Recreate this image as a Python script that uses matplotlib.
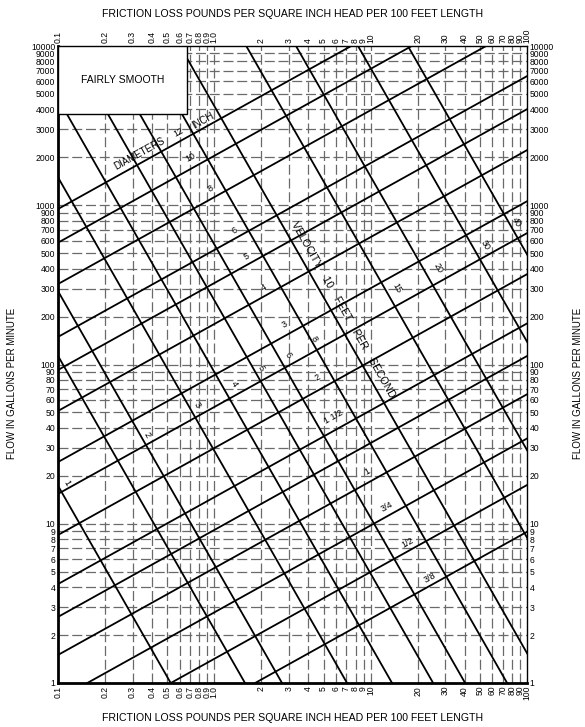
import numpy as np
import matplotlib.pyplot as plt
from matplotlib.patches import Rectangle

plt.rcParams['font.family'] = ['Liberation Sans', 'DejaVu Sans']

# pipe diameter lines: flow (gpm) read where each line meets 0.1 and 100 psi / 100 ft
diameters = ['12', '10', '8', '6', '5', '4', '3', '2 1/2', '2', '1 1/2', '1 1/4', '1', '3/4', '1/2', '3/8']
diam_flow_at_01 = [947, 582, 320, 149, 92.4, 51.1, 24.4, 15.4, 8.5, 4.18, 2.6, 1.5, 0.79, 0.404, 0.205]
diam_flow_at_100 = [41100, 25260, 13890, 6467, 4010, 2218, 1059, 668, 369, 181, 113, 65, 34.3, 17.5, 8.9]

# velocity lines (ft/s): friction loss read where each line meets 10000 gpm and 1 gpm
velocities = ['1', '1 1/2', '2', '3', '4', '5', '6', '8', '10', '15', '20', '30', '40']
vel_loss_at_10000 = [0.00247, 0.00736, 0.0127, 0.0331, 0.0643, 0.1175, 0.188, 0.350, 0.603, 1.60, 3.33, 8.30, 17.3]
vel_loss_at_1 = [0.526, 1.571, 2.71, 7.06, 13.7, 25.1, 40.2, 74.6, 128.6, 340, 711, 1771, 3700]

x_ticks = [0.1, 0.2, 0.3, 0.4, 0.5, 0.6, 0.7, 0.8, 0.9, 1, 2, 3, 4, 5, 6, 7, 8, 9,
           10, 20, 30, 40, 50, 60, 70, 80, 90, 100]
x_ticklabels = ['0.1', '0.2', '0.3', '0.4', '0.5', '0.6', '0.7', '0.8', '0.9', '1.0',
                '2', '3', '4', '5', '6', '7', '8', '9', '10', '20', '30', '40', '50',
                '60', '70', '80', '90', '100']
y_ticks = [1, 2, 3, 4, 5, 6, 7, 8, 9, 10, 20, 30, 40, 50, 60, 70, 80, 90, 100, 200, 300,
           400, 500, 600, 700, 800, 900, 1000, 2000, 3000, 4000, 5000, 6000, 7000, 8000,
           9000, 10000]

# label spots (friction loss, flow)
diam_label_pos = [(0.586, 2884), (0.699, 2010), (0.953, 1265), (1.337, 689), (1.62, 473),
                  (2.08, 302), (2.83, 179), None, (4.60, 82.2), (5.75, 46.8), None,
                  (9.48, 21.4), (12.7, 12.7), (17.3, 7.57), (24.0, 4.56)]
vel_label_pos = [(0.1137, 18.1), None, (0.369, 36.1), (0.771, 55.7), (1.343, 75.2),
                 (1.99, 94.6), (2.95, 115), (4.36, 144), None, (14.7, 301), (26.9, 402),
                 (54.0, 563), (86.1, 788)]

fig = plt.figure(figsize=(5.85, 7.27), dpi=100)
ax = fig.add_axes([58 / 585, 44 / 727, 469 / 585, 637 / 727])
ax.set_xscale('log')
ax.set_yscale('log')
ax.set_xlim(0.1, 100)
ax.set_ylim(1, 10000)

# dashed grid
for xv in x_ticks[1:-1]:
    ax.axvline(xv, color='#6a6a6a', lw=0.9, ls=(0, (8, 3)), zorder=1)
for yv in y_ticks[1:-1]:
    ax.axhline(yv, color='#6a6a6a', lw=0.9, ls=(0, (8, 3)), zorder=1)

for q0, q1 in zip(diam_flow_at_01, diam_flow_at_100):
    ax.plot([0.1, 100], [q0, q1], color='black', lw=1.3, zorder=3)
for s0, s1 in zip(vel_loss_at_10000, vel_loss_at_1):
    ax.plot([s0, s1], [10000, 1], color='black', lw=1.3, zorder=3)

lab_font = dict(fontsize=6.5, ha='center', va='center', zorder=4)
for name, pos in zip(diameters, diam_label_pos):
    if pos is not None:
        ax.text(pos[0], pos[1], name, rotation=29, **lab_font)
for name, pos in zip(velocities, vel_label_pos):
    if pos is not None:
        ax.text(pos[0], pos[1], name, rotation=-60, **lab_font)

ax.text(0.3346, 2098, 'DIAMETERS', rotation=29, fontsize=7, ha='center', va='center')
ax.text(0.850, 3381, 'INCH', rotation=29, fontsize=7, ha='center', va='center')
ax.text(6.66, 220, 'VELOCITY    10    FEET    PER    SECOND', rotation=-60.5,
        fontsize=7.5, ha='center', va='center')

box = Rectangle((0, 0.893), 0.274, 0.107, transform=ax.transAxes, facecolor='white',
                edgecolor='black', lw=1.0, zorder=5)
ax.add_patch(box)
ax.text(0.137, 0.946, 'FAIRLY SMOOTH', transform=ax.transAxes, fontsize=7.5,
        ha='center', va='center', zorder=6)

ax.set_xticks(x_ticks)
ax.set_xticklabels(x_ticklabels, rotation=90)
ax.set_yticks(y_ticks)
ax.set_yticklabels([str(v) for v in y_ticks])
ax.minorticks_off()
ax.tick_params(which='both', length=0, labelsize=6.2, pad=2,
               top=True, right=True, labeltop=True, labelright=True)

ax.spines['left'].set_linewidth(2)
ax.spines['bottom'].set_linewidth(2)
ax.spines['top'].set_linewidth(1)
ax.spines['right'].set_linewidth(1)

title = 'FRICTION LOSS POUNDS PER SQUARE INCH HEAD PER 100 FEET LENGTH'
fig.text(0.5, 1 - 14 / 727, title, ha='center', va='center', fontsize=7.6)
fig.text(0.5, 1 - 718 / 727, title, ha='center', va='center', fontsize=7.6)
fig.text(12 / 585, 1 - 383 / 727, 'FLOW IN GALLONS PER MINUTE', rotation=90,
         ha='center', va='center', fontsize=7)
fig.text(578 / 585, 1 - 383 / 727, 'FLOW IN GALLONS PER MINUTE', rotation=90,
         ha='center', va='center', fontsize=7)

fig.savefig('out.png', dpi=100)
